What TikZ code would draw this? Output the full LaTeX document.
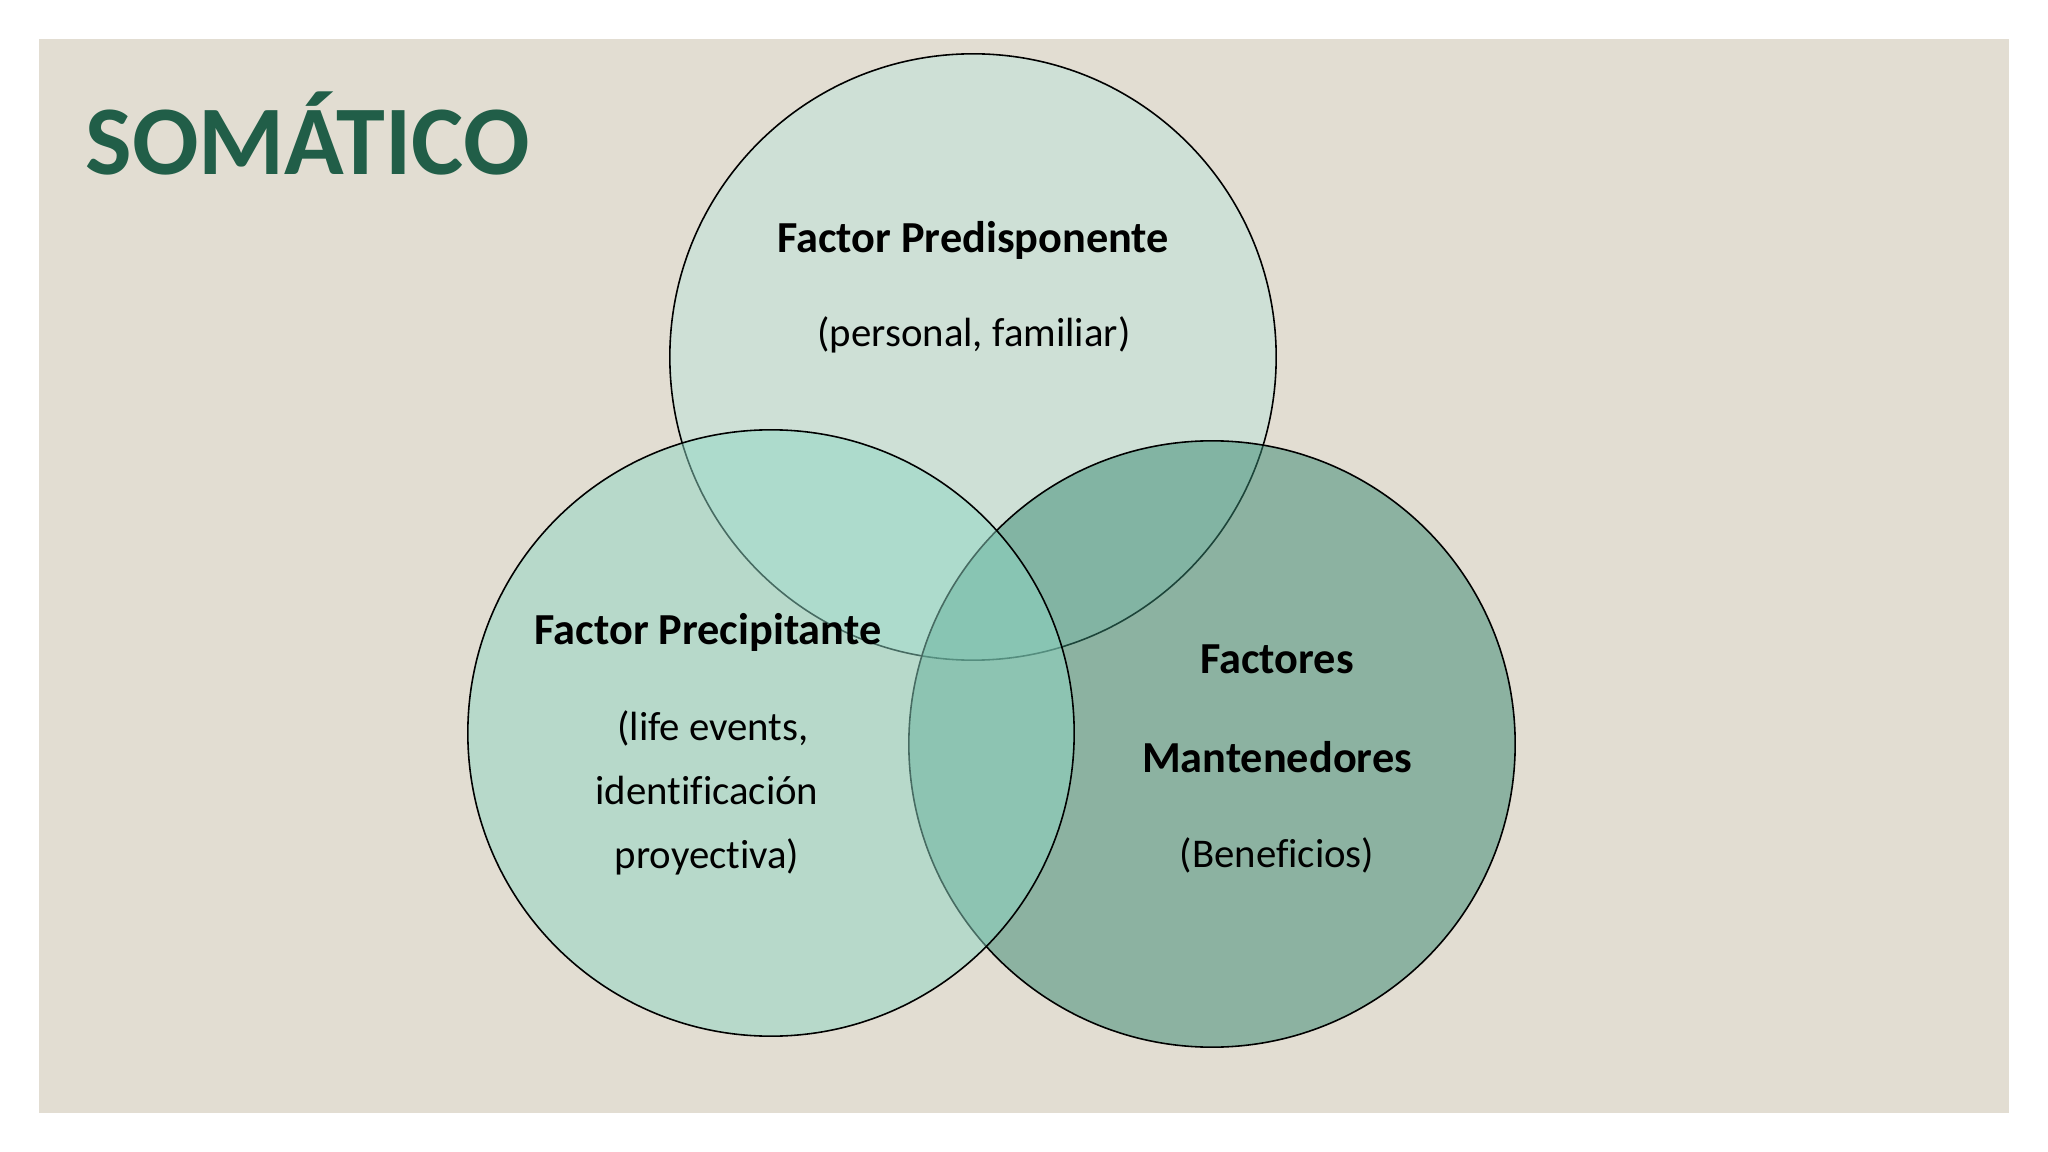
\documentclass[tikz,border=0pt]{standalone}
\usepackage{fontspec}
\setmainfont{Carlito}[Ligatures=CommonOff]

\definecolor{panelbg}{HTML}{E2DDD2}
\definecolor{titlegreen}{HTML}{215E48}
\definecolor{predispfill}{HTML}{BCE3DA}
\definecolor{precipfill}{HTML}{8ED7C4}
\definecolor{mantenfill}{HTML}{388972}

\tikzset{
  venn/.style={circle, draw=black, line width=0.45pt, minimum size=6.06cm, inner sep=0pt, fill opacity=0.5},
  head/.style={anchor=base, inner sep=0pt, font=\bfseries\fontsize{12.6}{15}\selectfont},
  note/.style={anchor=base, inner sep=0pt, font=\fontsize{11.6}{14}\selectfont},
}

\begin{document}
\begin{tikzpicture}[x=0.01cm, y=-0.01cm]
\useasboundingbox (0,0) rectangle (2048,1152);
\fill[panelbg] (39,39) rectangle (2009,1113);
\node[anchor=base west, inner sep=0pt, text=titlegreen, font=\bfseries\fontsize{28}{30}\selectfont] (title) at (85,175) {SOMÁTICO};

% circles: top, right, left
\node[venn, fill=predispfill] (predisp) at (973,357) {};
\node[venn, fill=mantenfill] (manten) at (1212,744) {};
\node[venn, fill=precipfill] (precip) at (771,733) {};

% labels
\node[head] (predisphead) at (973,253) {Factor Predisponente};
\node[note] (predispnote) at (974,347) {(personal, familiar)};

\node[head] (precipihead) at (708,645) {Factor Precipitante};
\node[note] (precipnotea) at (713,740) {(life events,};
\node[note] (precipnoteb) at (707,804) {identificación};
\node[note] (precipnotec) at (707,868) {proyectiva)};

\node[head] (mantenheada) at (1277,673) {Factores};
\node[head] (mantenheadb) at (1277,772) {Mantenedores};
\node[note] (mantennote) at (1277,867) {(Beneficios)};
\end{tikzpicture}
\end{document}
